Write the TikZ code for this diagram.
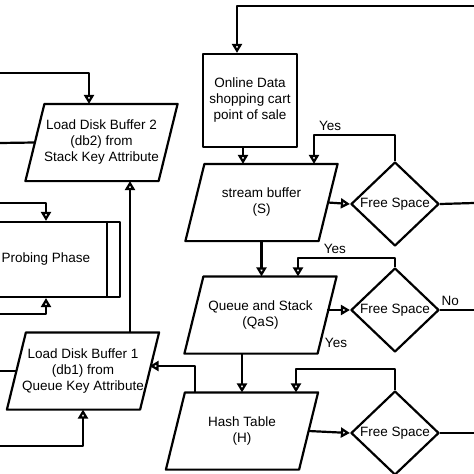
\documentclass[tikz,border=0pt]{standalone}
\usepackage{fontspec}
\setmainfont{Liberation Sans}
\usetikzlibrary{arrows.meta,shapes.geometric,positioning}

\begin{document}
\begin{tikzpicture}[
           x = 1pt, y = -1pt,
           > = {Triangle[open, length=9pt, width=10pt]},
  line width = 2.2pt, line join=round,
 txt/.style = {align=center, font=\fontsize{13.5}{16}\selectfont},
 lbl/.style = {font=\fontsize{13.5}{16}\selectfont},
 par/.style = {txt, inner sep=0pt, minimum width=131pt, minimum height=75pt},% outline drawn below
rbox/.style = {txt, draw, inner sep=0pt},
 dec/.style = {txt, diamond, draw, inner sep=0pt,
               minimum width=88pt, minimum height=84pt},
]
\useasboundingbox (0,0) rectangle (474,474);
\clip (0,0) rectangle (474,474);

% boxes
\node[rbox, minimum width=94pt, minimum height=93pt] (online) at (250,100.5)
     {Online Data\\ shopping cart\\ point of sale};
\node[par] (db2)  at (101.5,142.5) {Load Disk Buffer 2\\ (db2) from\\ Stack Key Attribute};
\node[par] (sbuf) at (261.5,202.5) {stream buffer\\ (S)};
\node[par] (qas)  at (260.5,315)   {Queue and Stack\\ (QaS)};
\node[par] (hash) at (242,431)     {Hash Table\\ (H)};
\node[par] (db1)  at (83,371)      {Load Disk Buffer 1\\ (db1) from\\ Queue Key Attribute};
\node[rbox, minimum width=148pt, minimum height=75pt] (probe) at (46,259.5) {Probing Phase};
\draw ([xshift=-14pt]probe.north east) -- ([xshift=-14pt]probe.south east);

% parallelogram outlines
\foreach \n in {db2,sbuf,qas,hash,db1}
  \draw ([xshift=9.5pt]\n.north west) -- ([xshift=9.5pt]\n.north east)
     -- ([xshift=-9.5pt]\n.south east) -- ([xshift=-9.5pt]\n.south west) -- cycle;

% decisions
\node[dec] (fs1) at (395,204) {Free Space};
\node[dec] (fs2) at (395,310) {Free Space};
\node[dec] (fs3) at (395,433) {Free Space};

% free ends at the border
\coordinate (in0) at (474,6);
\coordinate (r1)  at (474,203);
\coordinate (r2)  at (474,310);
\coordinate (r3)  at (474,433);
\coordinate (l1)  at (0,73);
\coordinate (l2)  at (0,143);
\coordinate (l3)  at (0,203);
\coordinate (l4)  at (0,314);
\coordinate (l5)  at (0,371);
\coordinate (l6)  at (0,446);

% main flow
\draw[->] (in0) -| ([xshift=-13pt]online.north);
\draw[->] ([xshift=-7pt]online.south) -- ([xshift=-7pt]online.south |- sbuf.north);
\draw[->] (sbuf.east) -- (fs1.west);
\draw[->] (sbuf.south) -- (sbuf.south |- qas.north);
\draw[->] (qas.east |- fs2.west) -- (fs2.west);
\draw[->] (hash.north |- qas.south) -- (hash.north);
\draw[->] (hash.east) -- (fs3.west);

% yes loops
\draw[->] (fs1.north) -- ++(0,-26) -| node[lbl, above, pos=0.4] (yes1) {Yes}
          ([xshift=52.5pt]sbuf.north);
\draw[->] (fs2.north) -- ++(0,-9) -| node[lbl, above, pos=0.31] (yes2) {Yes}
          ([xshift=37.5pt]qas.north);
\draw[->] (fs3.north) -- ++(0,-21) -| ([xshift=54pt]hash.north);
\node[lbl] (yes3) at (336,343) {Yes};

% exits to the right
\draw (fs1.east) -- (r1);
\draw (fs2.east) -- node[lbl, above, pos=0.3] (no2) {No} (r2);
\draw (fs3.east) -- (r3);

% left column
\draw[->] ([xshift=-47pt]hash.north) |- ([yshift=5pt]db1.east);
\draw[->] ([xshift=47pt]db1.north) -- ([xshift=47pt]db1.north |- db2.south);
\draw[->] (l1) -| ([xshift=-12.5pt]db2.north);
\draw (l2) -- ([xshift=-0.5pt]db2.west);
\draw[->] (l3) -| (probe.north);
\draw[->] (l4) -| (probe.south);
\draw (l5) -- (db1.west);
\draw[->] (l6) -| (db1.south);
\end{tikzpicture}
\end{document}
